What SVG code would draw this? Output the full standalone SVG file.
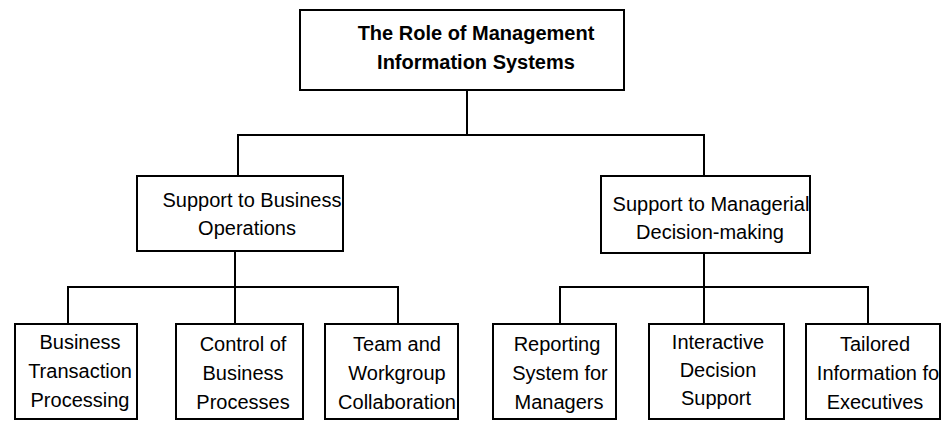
<svg xmlns="http://www.w3.org/2000/svg" width="946" height="426" viewBox="0 0 946 426">
<style>
.b{fill:#fff;stroke:#000;stroke-width:2}
text{font-family:"Liberation Sans",Arial,sans-serif;font-size:20px;fill:#000;text-anchor:middle}
.t{font-weight:bold}
.c{fill:none;stroke:#000;stroke-width:2}
</style>
<rect width="946" height="426" fill="#fff"/>
<g id="connectors">
<path class="c" d="M467 90V135M238 176V135H704V176"/>
<path class="c" d="M235 251V287M68 324V287H398V324M235 287V324"/>
<path class="c" d="M704 253V287M560 324V287H868V324M704 287V324"/>
</g>
<g id="root"><rect class="b" x="300" y="10" width="324" height="80"/>
<text class="t" x="476" y="40">The Role of Management</text><text class="t" x="476" y="69">Information Systems</text></g>
<g id="ops"><rect class="b" x="137" y="176" width="206" height="75"/>
<text x="252" y="207">Support to Business</text><text x="247" y="235">Operations</text></g>
<g id="mgr"><rect class="b" x="601" y="176" width="209" height="77"/>
<text x="711" y="211">Support to Managerial</text><text x="710" y="239">Decision-making</text></g>
<g id="n1"><rect class="b" x="15" y="324" width="122" height="95"/>
<text x="80" y="349">Business</text><text x="80" y="378">Transaction</text><text x="80" y="407">Processing</text></g>
<g id="n2"><rect class="b" x="176" y="324" width="127" height="95"/>
<text x="243" y="351">Control of</text><text x="243" y="380">Business</text><text x="243" y="409">Processes</text></g>
<g id="n3"><rect class="b" x="325" y="324" width="133" height="95"/>
<text x="397" y="351">Team and</text><text x="397" y="380">Workgroup</text><text x="397" y="409">Collaboration</text></g>
<g id="n4"><rect class="b" x="493" y="324" width="123" height="95"/>
<text x="557" y="351">Reporting</text><text x="560" y="380">System for</text><text x="559" y="409">Managers</text></g>
<g id="n5"><rect class="b" x="649" y="324" width="135" height="95"/>
<text x="718" y="349">Interactive</text><text x="718" y="377">Decision</text><text x="716" y="405">Support</text></g>
<g id="n6"><rect class="b" x="806" y="324" width="134" height="95"/>
<text x="875" y="351">Tailored</text><text x="878" y="380">Information fo</text><text x="875" y="409">Executives</text></g>
</svg>
